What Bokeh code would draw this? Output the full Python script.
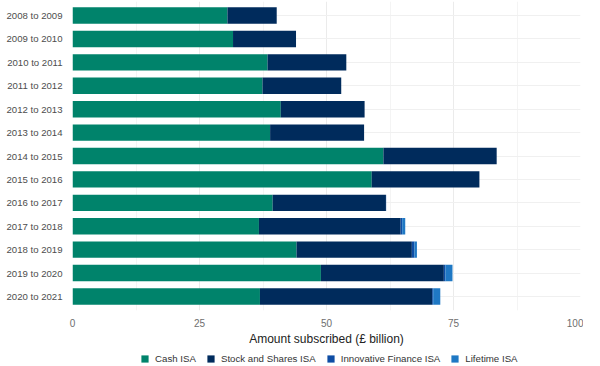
from bokeh.plotting import figure
from bokeh.layouts import column
from bokeh.models import Range1d, FixedTicker, Legend, LegendItem, ColumnDataSource
from bokeh.embed import file_html
from bokeh.resources import INLINE

years = ["2008 to 2009", "2009 to 2010", "2010 to 2011", "2011 to 2012",
         "2012 to 2013", "2013 to 2014", "2014 to 2015", "2015 to 2016",
         "2016 to 2017", "2017 to 2018", "2018 to 2019", "2019 to 2020",
         "2020 to 2021"]
cash = [30.5, 31.6, 38.4, 37.4, 41.0, 38.9, 61.2, 58.9, 39.4, 36.7, 44.1, 48.9, 36.9]
stocks = [9.7, 12.4, 15.5, 15.5, 16.5, 18.5, 22.3, 21.2, 22.3, 27.9, 22.7, 24.2, 33.9]
innovative = [0, 0, 0, 0, 0, 0, 0, 0, 0.04, 0.3, 0.5, 0.3, 0.2]
lifetime = [0, 0, 0, 0, 0, 0, 0, 0, 0, 0.6, 0.5, 1.4, 1.4]

series = ["Cash ISA", "Stock and Shares ISA", "Innovative Finance ISA", "Lifetime ISA"]
colors = ["#00836B", "#002B5C", "#0E4DA4", "#1F78C4"]
x_ticks = [0, 25, 50, 75, 100]
x_minor = [12.5, 37.5, 62.5, 87.5]

n = len(years)
pos = [n - 1 - i for i in range(n)]
src = ColumnDataSource(dict(pos=pos, cash=cash, stocks=stocks,
                            innovative=innovative, lifetime=lifetime))
stack_cols = ["cash", "stocks", "innovative", "lifetime"]

FONT = "Liberation Sans"

p = figure(width=583, height=348, output_backend="svg", toolbar_location=None,
           x_range=Range1d(0, 100), y_range=Range1d(-0.6, n - 1 + 0.6),
           min_border_left=72, min_border_right=3, min_border_top=1,
           min_border_bottom=30)
p.outline_line_color = None
p.background_fill_color = "white"
p.border_fill_color = "white"

rs = p.hbar_stack(stack_cols, y="pos", height=0.7, color=colors,
                  line_color=None, source=src)

# axes
p.xaxis.ticker = FixedTicker(ticks=x_ticks, minor_ticks=x_minor)
p.yaxis.ticker = FixedTicker(ticks=pos)
p.yaxis.major_label_overrides = {pp: y for pp, y in zip(pos, years)}
for ax in (p.xaxis, p.yaxis):
    ax.axis_line_color = None
    ax.major_tick_line_color = None
    ax.minor_tick_line_color = None
    ax.major_label_text_font = FONT
p.yaxis.major_label_text_font_size = "9.6px"
p.yaxis.major_label_text_color = "#4D4D4D"
p.yaxis.major_label_standoff = 4
p.xaxis.major_label_text_font_size = "10px"
p.xaxis.major_label_text_color = "#6E6E6E"
p.xaxis.major_label_standoff = 2
p.xaxis.axis_label = "Amount subscribed (£ billion)"
p.xaxis.axis_label_text_font = FONT
p.xaxis.axis_label_text_font_style = "normal"
p.xaxis.axis_label_text_font_size = "12px"
p.xaxis.axis_label_text_color = "#222222"
p.xaxis.axis_label_standoff = 2

# grid
p.xgrid.grid_line_color = "#EBEBEB"
p.xgrid.minor_grid_line_color = "#F4F4F4"
p.ygrid.grid_line_color = "#F0F0F0"

# legend strip (its own small figure so it sits under the axis title)
pl = figure(width=583, height=18, output_backend="svg", toolbar_location=None,
            x_range=Range1d(1000, 1001), y_range=Range1d(1000, 1001),
            min_border=0)
pl.axis.visible = False
pl.grid.visible = False
pl.outline_line_color = None
pl.border_fill_color = "white"
lr = pl.hbar_stack(stack_cols, y="pos", height=0.7, color=colors,
                   line_color=None, source=src)
legend = Legend(items=[LegendItem(label=s, renderers=[r]) for s, r in zip(series, lr)],
                orientation="horizontal", location=(68, 2),
                label_text_font=FONT, label_text_font_size="9.7px",
                label_text_color="#333333", glyph_width=9, glyph_height=9,
                label_standoff=6, spacing=10, padding=0, margin=0,
                label_height=12, border_line_color=None,
                background_fill_alpha=0)
pl.add_layout(legend, "center")

open("out.html", "w").write(file_html(column(p, pl, spacing=0), INLINE))
